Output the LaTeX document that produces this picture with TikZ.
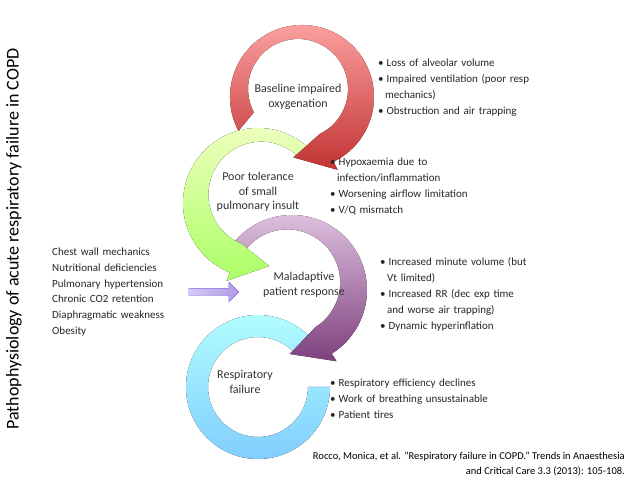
\documentclass[tikz,border=0pt]{standalone}
\usepackage{fontspec}
\setmainfont{Carlito}
\usetikzlibrary{shapes.arrows,calc}
\newcommand{\ringarrow}[8]{% cx,cy,R,r,start,end,tip,style
 \pgfmathsetmacro{\mr}{(#3+#4)/2}
 \pgfmathsetmacro{\Rw}{#3+9}
 \pgfmathsetmacro{\rw}{#4-9}
 \fill[#8] (#1,#2) ++(#5:#3) arc[start angle=#5,end angle=#6,radius=#3]
   -- ($(#1,#2)+(#6:\Rw)$) -- ($(#1,#2)+(#7:\mr)$) -- ($(#1,#2)+(#6:\rw)$)
   arc[start angle=#6,end angle=#5,radius=#4] -- cycle;}
\newcommand{\bul}{\textbullet\hspace{3pt}}
\newcommand{\ind}{\mbox{}\hspace{7pt}}
\begin{document}
\begin{tikzpicture}[x=1pt,y=1pt,
 lbl/.style={align=center,font=\fontsize{12}{14.5}\selectfont,text=black!80},
 lst/.style={align=left,anchor=north west,font=\fontsize{11}{16}\selectfont,text=black!85,inner sep=0pt}]
\useasboundingbox (0,0) rectangle (638,479);
\fill[white] (0,0) rectangle (638,479);
% cyan
\fill[top color=cyan!30!white, bottom color=cyan!60!blue!50!white] (258,92) ++(45:72) arc[start angle=45,end angle=360,radius=72] -- ++(-22,0) arc[start angle=360,end angle=45,radius=50] -- cycle;
% purple
\ringarrow{292}{189}{75}{53}{140}{-58}{-92}{top color=violet!22!white, bottom color=violet!65!black!75!white}
% green
\ringarrow{258}{276}{75}{53}{45}{248}{280}{top color=green!25!yellow!25!white, bottom color=green!55!yellow!60!white}
% red
\ringarrow{302}{382}{72}{50}{208}{-64}{-98}{top color=red!35!white, bottom color=red!70!black!80!white}
\node[lbl] (n1) at (298,382) {Baseline impaired\\oxygenation};
\node[lbl] (n2) at (258,287) {Poor tolerance\\of small\\pulmonary insult};
\node[lbl] (n3) at (304,194) {Maladaptive\\patient response};
\node[lbl] (n4) at (245,97) {Respiratory\\failure};
\node[lst,text width=175pt] (l1) at (378,420) {\bul Loss of alveolar volume\\\bul Impaired ventilation (poor resp\\\ind mechanics)\\\bul Obstruction and air trapping};
\node[lst,text width=175pt] (l2) at (330,321) {\bul Hypoxaemia due to\\\ind infection/inflammation\\\bul Worsening airflow limitation\\\bul V/Q mismatch};
\node[lst,text width=175pt] (l3) at (380,222) {\bul Increased minute volume (but\\\ind Vt limited)\\\bul Increased RR (dec exp time\\\ind and worse air trapping)\\\bul Dynamic hyperinflation};
\node[lst,text width=175pt] (l4) at (330,100) {\bul Respiratory efficiency declines\\\bul Work of breathing unsustainable\\\bul Patient tires};
\node[lst,text width=150pt,font=\fontsize{11}{15.7}\selectfont] (l0) at (52,231) {Chest wall mechanics\\Nutritional deficiencies\\Pulmonary hypertension\\Chronic CO2 retention\\Diaphragmatic weakness\\Obesity};
\node[single arrow,draw=violet!50!blue!60,left color=violet!20!blue!20,right color=violet!50!blue!40,minimum height=50pt,minimum width=20pt,single arrow head extend=4pt,inner sep=2pt] (ar) at (212,187) {};
\node[rotate=90,font=\fontsize{18}{20}\selectfont,anchor=center] (t) at (14,240) {Pathophysiology of acute respiratory failure in COPD};
\node[align=right,anchor=south east,font=\fontsize{10.5}{15}\selectfont,inner sep=0pt] (ref) at (625,3) {Rocco, Monica, et al. "Respiratory failure in COPD." Trends in Anaesthesia\\and Critical Care 3.3 (2013): 105-108.};
\end{tikzpicture}
\end{document}
